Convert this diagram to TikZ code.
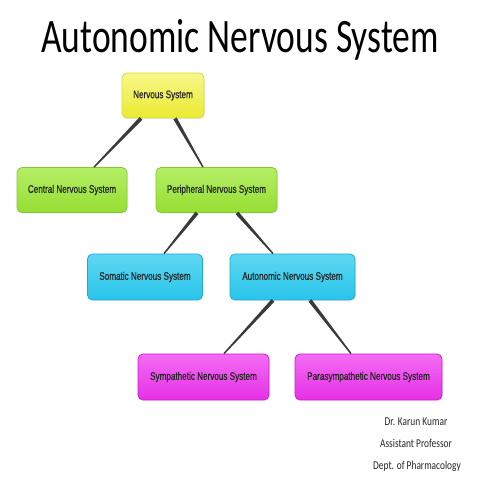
\documentclass[tikz,border=0pt]{standalone}
\usepackage{fontspec}
\setmainfont{Carlito}
\newfontfamily\titlefont[FakeStretch=0.74]{Carlito}
\newfontfamily\authfont[FakeStretch=0.78]{Carlito}
\newfontfamily\boxfont[FakeStretch=0.74,FakeBold=0.6]{Liberation Sans}
\usetikzlibrary{calc,shadows}
\definecolor{ytop}{HTML}{F8F88A}\definecolor{ybot}{HTML}{EAEA30}\definecolor{ybor}{HTML}{D6D64A}
\definecolor{gtop}{HTML}{B4EE66}\definecolor{gbot}{HTML}{96DE32}\definecolor{gbor}{HTML}{84C838}
\definecolor{btop}{HTML}{5ED8F2}\definecolor{bbot}{HTML}{28C4EA}\definecolor{bbor}{HTML}{22A8D2}
\definecolor{mtop}{HTML}{F46CF4}\definecolor{mbot}{HTML}{E630E6}\definecolor{mbor}{HTML}{C820C8}
\definecolor{linecol}{HTML}{3A3A3A}
\tikzset{
  boxbase/.style={rounded corners=5pt, inner sep=0pt, font=\boxfont\fontsize{11}{13}\selectfont, text=black!85, line width=0.8pt,
    drop shadow={opacity=0.12, shadow xshift=0.8pt, shadow yshift=-1.5pt}},
  ybox/.style={boxbase, draw=ybor, top color=ytop, bottom color=ybot},
  gbox/.style={boxbase, draw=gbor, top color=gtop, bottom color=gbot},
  bbox/.style={boxbase, draw=bbor, top color=btop, bottom color=bbot},
  mbox/.style={boxbase, draw=mbor, top color=mtop, bottom color=mbot},
  link/.style={fill=linecol},
  authtext/.style={font=\authfont\fontsize{12}{14}\selectfont, text=black!85}
}
% tapered connector between two named coordinates
\newcommand{\taperlink}[2]{%
  \fill[link] ($(#1)!1.9pt!90:(#2)$) -- ($(#2)!0.7pt!-90:(#1)$) -- ($(#2)!0.7pt!90:(#1)$) -- ($(#1)!1.9pt!-90:(#2)$) -- cycle;}
\begin{document}
\begin{tikzpicture}[x=1pt,y=1pt]
\useasboundingbox (0,0) rectangle (480,480);
\node[font=\titlefont\fontsize{48}{50}\selectfont, anchor=base] (title) at (240,427) {Autonomic Nervous System};
\node[ybox, minimum width=82pt, minimum height=45pt] (ns) at (163,384.5) {Nervous System};
\node[gbox, minimum width=110pt, minimum height=45pt] (cns) at (72,290) {Central Nervous System};
\node[gbox, minimum width=121pt, minimum height=45pt] (pns) at (216.5,290) {Peripheral Nervous System};
\node[bbox, minimum width=115pt, minimum height=46pt] (sns) at (145,203) {Somatic Nervous System};
\node[bbox, minimum width=125pt, minimum height=46pt] (ans) at (292.5,203) {Autonomic Nervous System};
\node[mbox, minimum width=131pt, minimum height=46pt] (sym) at (203.5,103) {Sympathetic Nervous System};
\node[mbox, minimum width=147pt, minimum height=46pt] (para) at (368.5,103) {Parasympathetic Nervous System};
\coordinate (ns1) at ($(ns.south)+(-22,0)$);   \coordinate (cns1) at ($(cns.north)+(22,0)$);
\coordinate (ns2) at ($(ns.south)+(12,0)$);    \coordinate (pns1) at ($(pns.north)+(-13.5,0)$);
\coordinate (pns2) at ($(pns.south)+(-19.5,0)$); \coordinate (sns1) at ($(sns.north)+(19,0)$);
\coordinate (pns3) at ($(pns.south)+(20.5,0)$);  \coordinate (ans1) at ($(ans.north)+(-19.5,0)$);
\coordinate (ans2) at ($(ans.south)+(-19.5,0)$); \coordinate (sym1) at ($(sym.north)+(20.5,0)$);
\coordinate (ans3) at ($(ans.south)+(17.5,0)$);  \coordinate (para1) at ($(para.north)+(-17.5,0)$);
\taperlink{ns1}{cns1}
\taperlink{ns2}{pns1}
\taperlink{pns2}{sns1}
\taperlink{pns3}{ans1}
\taperlink{ans2}{sym1}
\taperlink{ans3}{para1}
\node[authtext] (a1) at (416,58) {Dr. Karun Kumar};
\node[authtext] (a2) at (416,37) {Assistant Professor};
\node[authtext] (a3) at (417,14) {Dept. of Pharmacology};
\end{tikzpicture}
\end{document}
